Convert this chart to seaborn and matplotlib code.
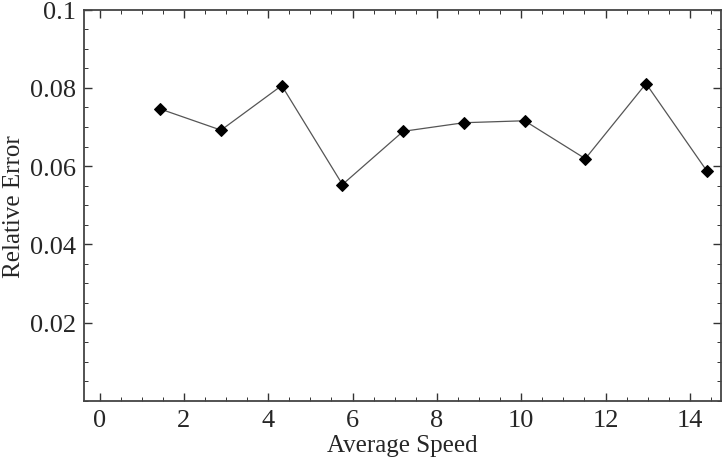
import numpy as np
import pandas as pd
import seaborn as sns
import matplotlib.pyplot as plt
from matplotlib.ticker import MultipleLocator

# values
speed = [1.44, 2.88, 4.32, 5.76, 7.20, 8.64, 10.08, 11.52, 12.96, 14.40]
rel_error = [0.0746, 0.0692, 0.0806, 0.0553, 0.0689, 0.0711, 0.0716, 0.0619, 0.0811, 0.0588]
x_ticks = [0, 2, 4, 6, 8, 10, 12, 14]
y_ticks = [0.02, 0.04, 0.06, 0.08, 0.1]
y_labels = ["0.02", "0.04", "0.06", "0.08", "0.1"]

df = pd.DataFrame({"Average Speed": speed, "Relative Error": rel_error})

sns.set_style("ticks")
plt.rcParams["font.family"] = ["Liberation Serif", "DejaVu Serif"]
plt.rcParams["axes.edgecolor"] = "#444444"
plt.rcParams["axes.linewidth"] = 1.3

fig = plt.figure(figsize=(7.24, 4.64), dpi=100)
ax = fig.add_axes([0.116, 0.134, 0.880, 0.843])

sns.lineplot(data=df, x="Average Speed", y="Relative Error", ax=ax,
             color="#555555", linewidth=0.9, marker="D", markersize=5.8,
             markerfacecolor="black", markeredgecolor="black")

ax.set_xlim(-0.37, 14.74)
ax.set_ylim(0, 0.1)
ax.set_xticks(x_ticks)
ax.set_yticks(y_ticks)
ax.set_yticklabels(y_labels)
ax.xaxis.set_minor_locator(MultipleLocator(0.5))
ax.yaxis.set_minor_locator(MultipleLocator(0.005))
ax.tick_params(which="both", direction="in", top=True, right=True,
               color="#333333", labelsize=19, pad=6)
ax.tick_params(which="major", length=6, width=1.0)
ax.tick_params(which="minor", length=3, width=0.7)

ax.set_xlabel("Average Speed", fontsize=18, labelpad=2)
ax.set_ylabel("Relative Error", fontsize=18, labelpad=3)

fig.savefig("out.png", dpi=100)
